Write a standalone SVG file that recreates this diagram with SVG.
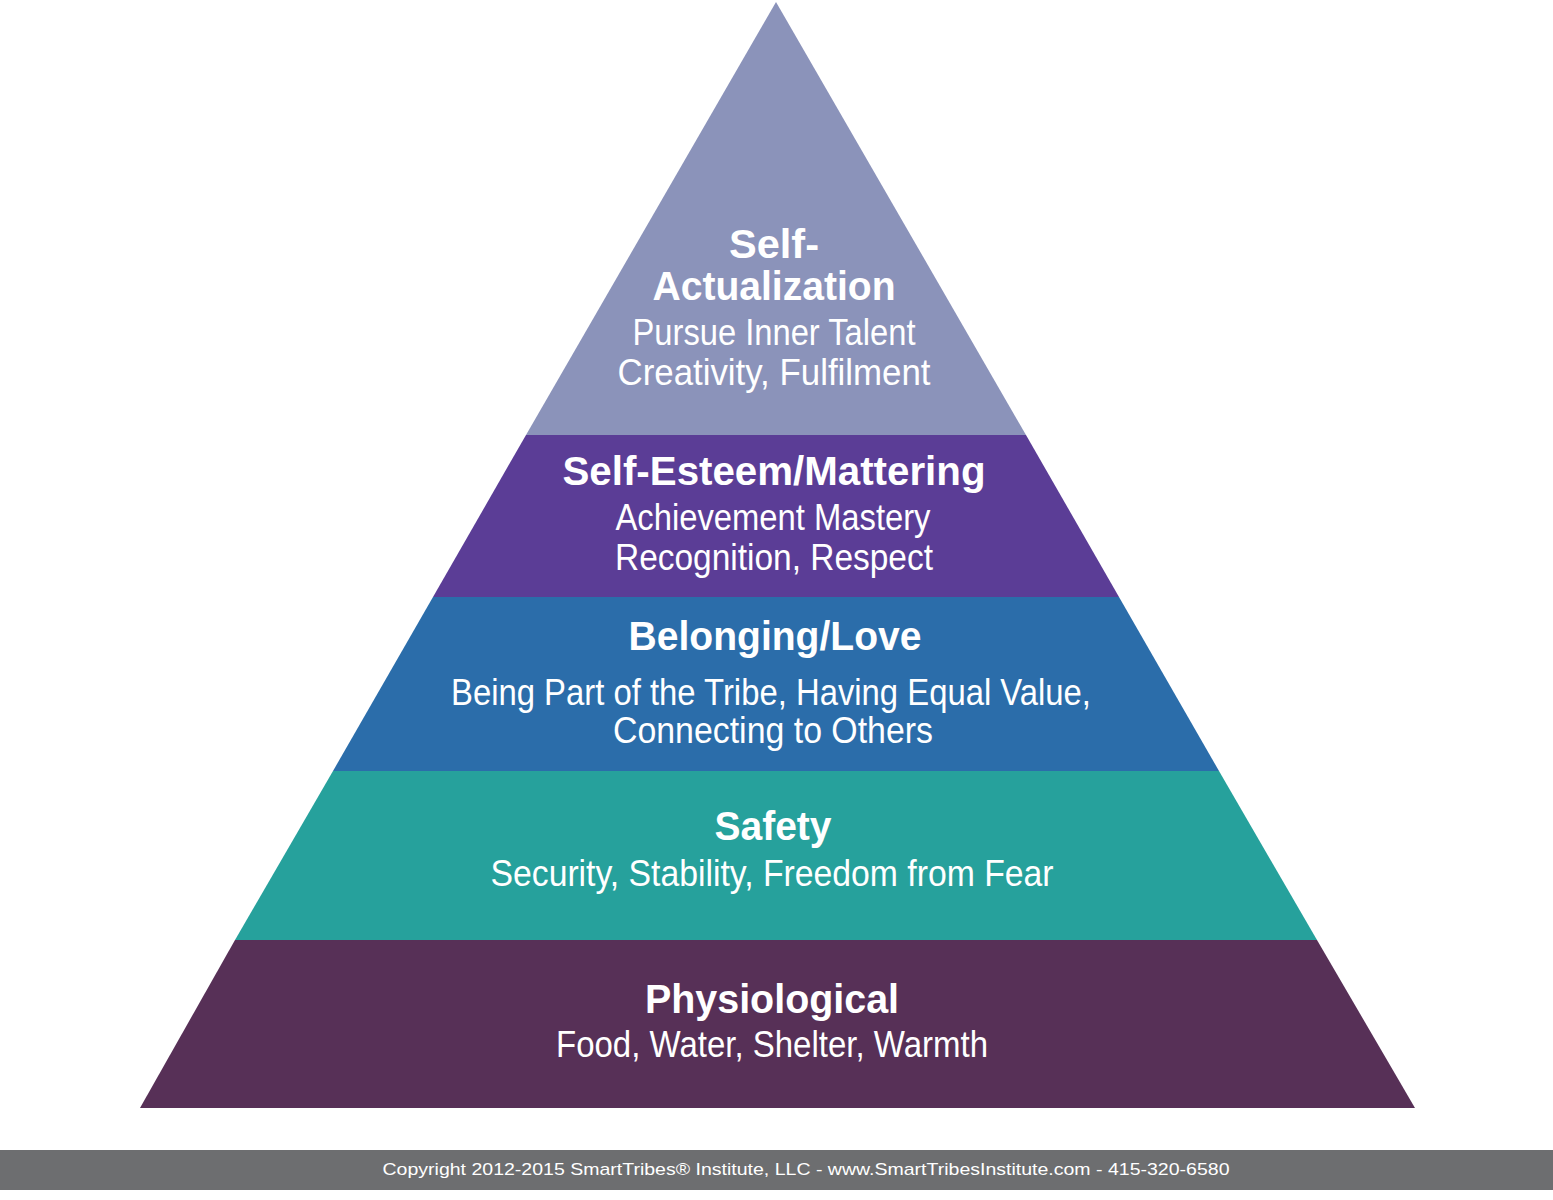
<svg xmlns="http://www.w3.org/2000/svg" width="1553" height="1200" viewBox="0 0 1553 1200">
<style>
.h{font-family:"Liberation Sans",Arial,sans-serif;font-weight:bold;font-size:40px;fill:#fff;text-anchor:middle}
.s{font-family:"Liberation Sans",Arial,sans-serif;font-size:36px;fill:#fff;text-anchor:middle}
.f{font-family:"Liberation Sans",Arial,sans-serif;font-size:17px;fill:#fff;text-anchor:middle}
</style>
<rect width="1553" height="1200" fill="#fff"/>
<g id="selfactualization">
<polygon points="776,2 1026,435 526,435" fill="#8B93BA"/>
<text class="h" x="774" y="258" textLength="90" lengthAdjust="spacingAndGlyphs">Self-</text>
<text class="h" x="774" y="300" textLength="243" lengthAdjust="spacingAndGlyphs">Actualization</text>
<text class="s" x="774" y="345" textLength="283" lengthAdjust="spacingAndGlyphs">Pursue Inner Talent</text>
<text class="s" x="774" y="385" textLength="313" lengthAdjust="spacingAndGlyphs">Creativity, Fulfilment</text>
</g>
<g id="selfesteem">
<polygon points="526,435 1026,435 1119,597 433,597" fill="#5B3D96"/>
<text class="h" x="774" y="485" textLength="423" lengthAdjust="spacingAndGlyphs">Self-Esteem/Mattering</text>
<text class="s" x="773" y="530" textLength="315" lengthAdjust="spacingAndGlyphs">Achievement Mastery</text>
<text class="s" x="774" y="570" textLength="318" lengthAdjust="spacingAndGlyphs">Recognition, Respect</text>
</g>
<g id="belonging">
<polygon points="433,597 1119,597 1219,771 333,771" fill="#2B6DAA"/>
<text class="h" x="775" y="650" textLength="293" lengthAdjust="spacingAndGlyphs">Belonging/Love</text>
<text class="s" x="771" y="705" textLength="640" lengthAdjust="spacingAndGlyphs">Being Part of the Tribe, Having Equal Value,</text>
<text class="s" x="773" y="743" textLength="320" lengthAdjust="spacingAndGlyphs">Connecting to Others</text>
</g>
<g id="safety">
<polygon points="333,771 1219,771 1317,940 235,940" fill="#26A19C"/>
<text class="h" x="773" y="840" textLength="117" lengthAdjust="spacingAndGlyphs">Safety</text>
<text class="s" x="772" y="886" textLength="563" lengthAdjust="spacingAndGlyphs">Security, Stability, Freedom from Fear</text>
</g>
<g id="physiological">
<polygon points="235,940 1317,940 1415,1108 140,1108" fill="#573057"/>
<text class="h" x="772" y="1013" textLength="254" lengthAdjust="spacingAndGlyphs">Physiological</text>
<text class="s" x="772" y="1057" textLength="432" lengthAdjust="spacingAndGlyphs">Food, Water, Shelter, Warmth</text>
</g>
<g id="footer">
<rect x="0" y="1150" width="1553" height="40" fill="#6D6E70"/>
<text class="f" x="806" y="1175" textLength="847" lengthAdjust="spacingAndGlyphs">Copyright 2012-2015 SmartTribes® Institute, LLC - www.SmartTribesInstitute.com - 415-320-6580</text>
</g>
<g id="connectors"/>
</svg>
